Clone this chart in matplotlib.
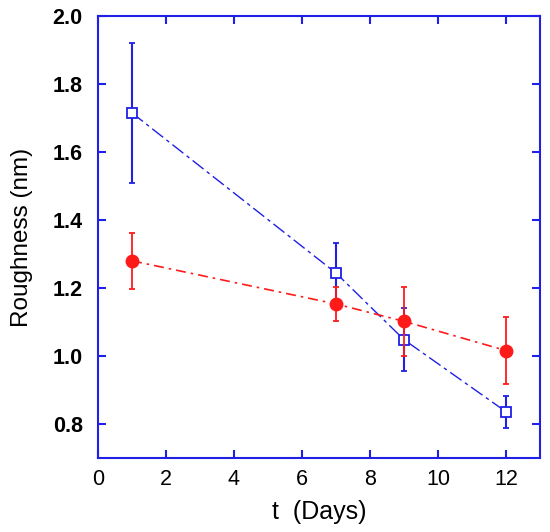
import matplotlib
matplotlib.use("Agg")
import matplotlib.pyplot as plt

days = [1, 7, 9, 12]
blue_vals = [1.715, 1.244, 1.048, 0.836]
blue_err = [0.205, 0.088, 0.093, 0.047]
red_vals = [1.280, 1.153, 1.102, 1.016]
red_err = [0.082, 0.050, 0.101, 0.098]
xticks = [0, 2, 4, 6, 8, 10, 12]
yticks = [0.8, 1.0, 1.2, 1.4, 1.6, 1.8, 2.0]

plt.rcParams['font.family'] = ['Liberation Sans', 'DejaVu Sans']

fig = plt.figure(figsize=(5.5, 5.32), dpi=100)
ax = fig.add_axes([98/550, 1-458/532, (540-98)/550, (458-16)/532])

blue = '#2020e6'
red = '#ff1a1a'

ax.errorbar(days, blue_vals, yerr=blue_err, color=blue, marker='s', ms=7.5,
            mfc='white', mec=blue, mew=1.3, lw=1.0, dashes=(10, 3, 2.5, 3),
            ecolor=blue, elinewidth=1.5, capsize=2.5, capthick=1.5, zorder=2)
ax.errorbar(days, red_vals, yerr=red_err, color=red, marker='o', ms=9,
            mfc=red, mec=red, lw=1.2, dashes=(6, 3, 1.5, 3),
            ecolor=red, elinewidth=1.3, capsize=2.5, capthick=1.3, zorder=3)

ax.set_xlim(0, 13)
ax.set_ylim(0.7, 2.0)
ax.set_xticks(xticks)
ax.set_xticklabels([str(v) for v in xticks])
ax.set_yticks(yticks)
ax.set_yticklabels([f"{v:.1f}" for v in yticks], fontweight='bold')

for s in ax.spines.values():
    s.set_color(blue)
    s.set_linewidth(1.5)
ax.tick_params(direction='in', length=6, width=1.5, color=blue,
               top=True, right=True, labelsize=15.5)
ax.tick_params(axis='x', pad=8)
ax.tick_params(axis='y', pad=11)

ax.set_xlabel('t  (Days)', fontsize=18, labelpad=7)
ax.set_ylabel('Roughness (nm)', fontsize=17.5, labelpad=14)

fig.savefig('out.png', dpi=100)
